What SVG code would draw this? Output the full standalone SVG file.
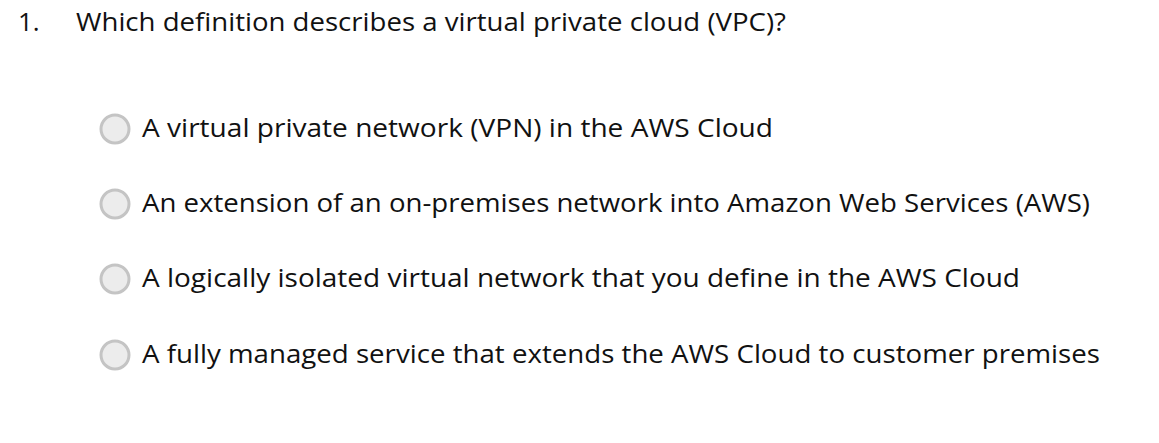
<svg xmlns="http://www.w3.org/2000/svg" width="1159" height="443" viewBox="0 0 1159 443">
<style>
text{font-family:"Open Sans","DejaVu Sans",sans-serif;font-size:26px;fill:#111}
.r{fill:#ececec;stroke:#c4c4c4;stroke-width:3}
</style>
<rect width="1159" height="443" fill="#fff"/>
<g id="question">
<text x="18" y="31">1.</text>
<text x="76" y="31" textLength="710" lengthAdjust="spacingAndGlyphs">Which definition describes a virtual private cloud (VPC)?</text>
</g>
<g id="opt1"><circle class="r" cx="115" cy="129" r="14"/><text x="142" y="137" textLength="631" lengthAdjust="spacingAndGlyphs">A virtual private network (VPN) in the AWS Cloud</text></g>
<g id="opt2"><circle class="r" cx="115" cy="204" r="14"/><text x="142" y="212" textLength="948" lengthAdjust="spacingAndGlyphs">An extension of an on-premises network into Amazon Web Services (AWS)</text></g>
<g id="opt3"><circle class="r" cx="115" cy="279" r="14"/><text x="142" y="287" textLength="878" lengthAdjust="spacingAndGlyphs">A logically isolated virtual network that you define in the AWS Cloud</text></g>
<g id="opt4"><circle class="r" cx="115" cy="355" r="14"/><text x="142" y="363" textLength="958" lengthAdjust="spacingAndGlyphs">A fully managed service that extends the AWS Cloud to customer premises</text></g>
</svg>
